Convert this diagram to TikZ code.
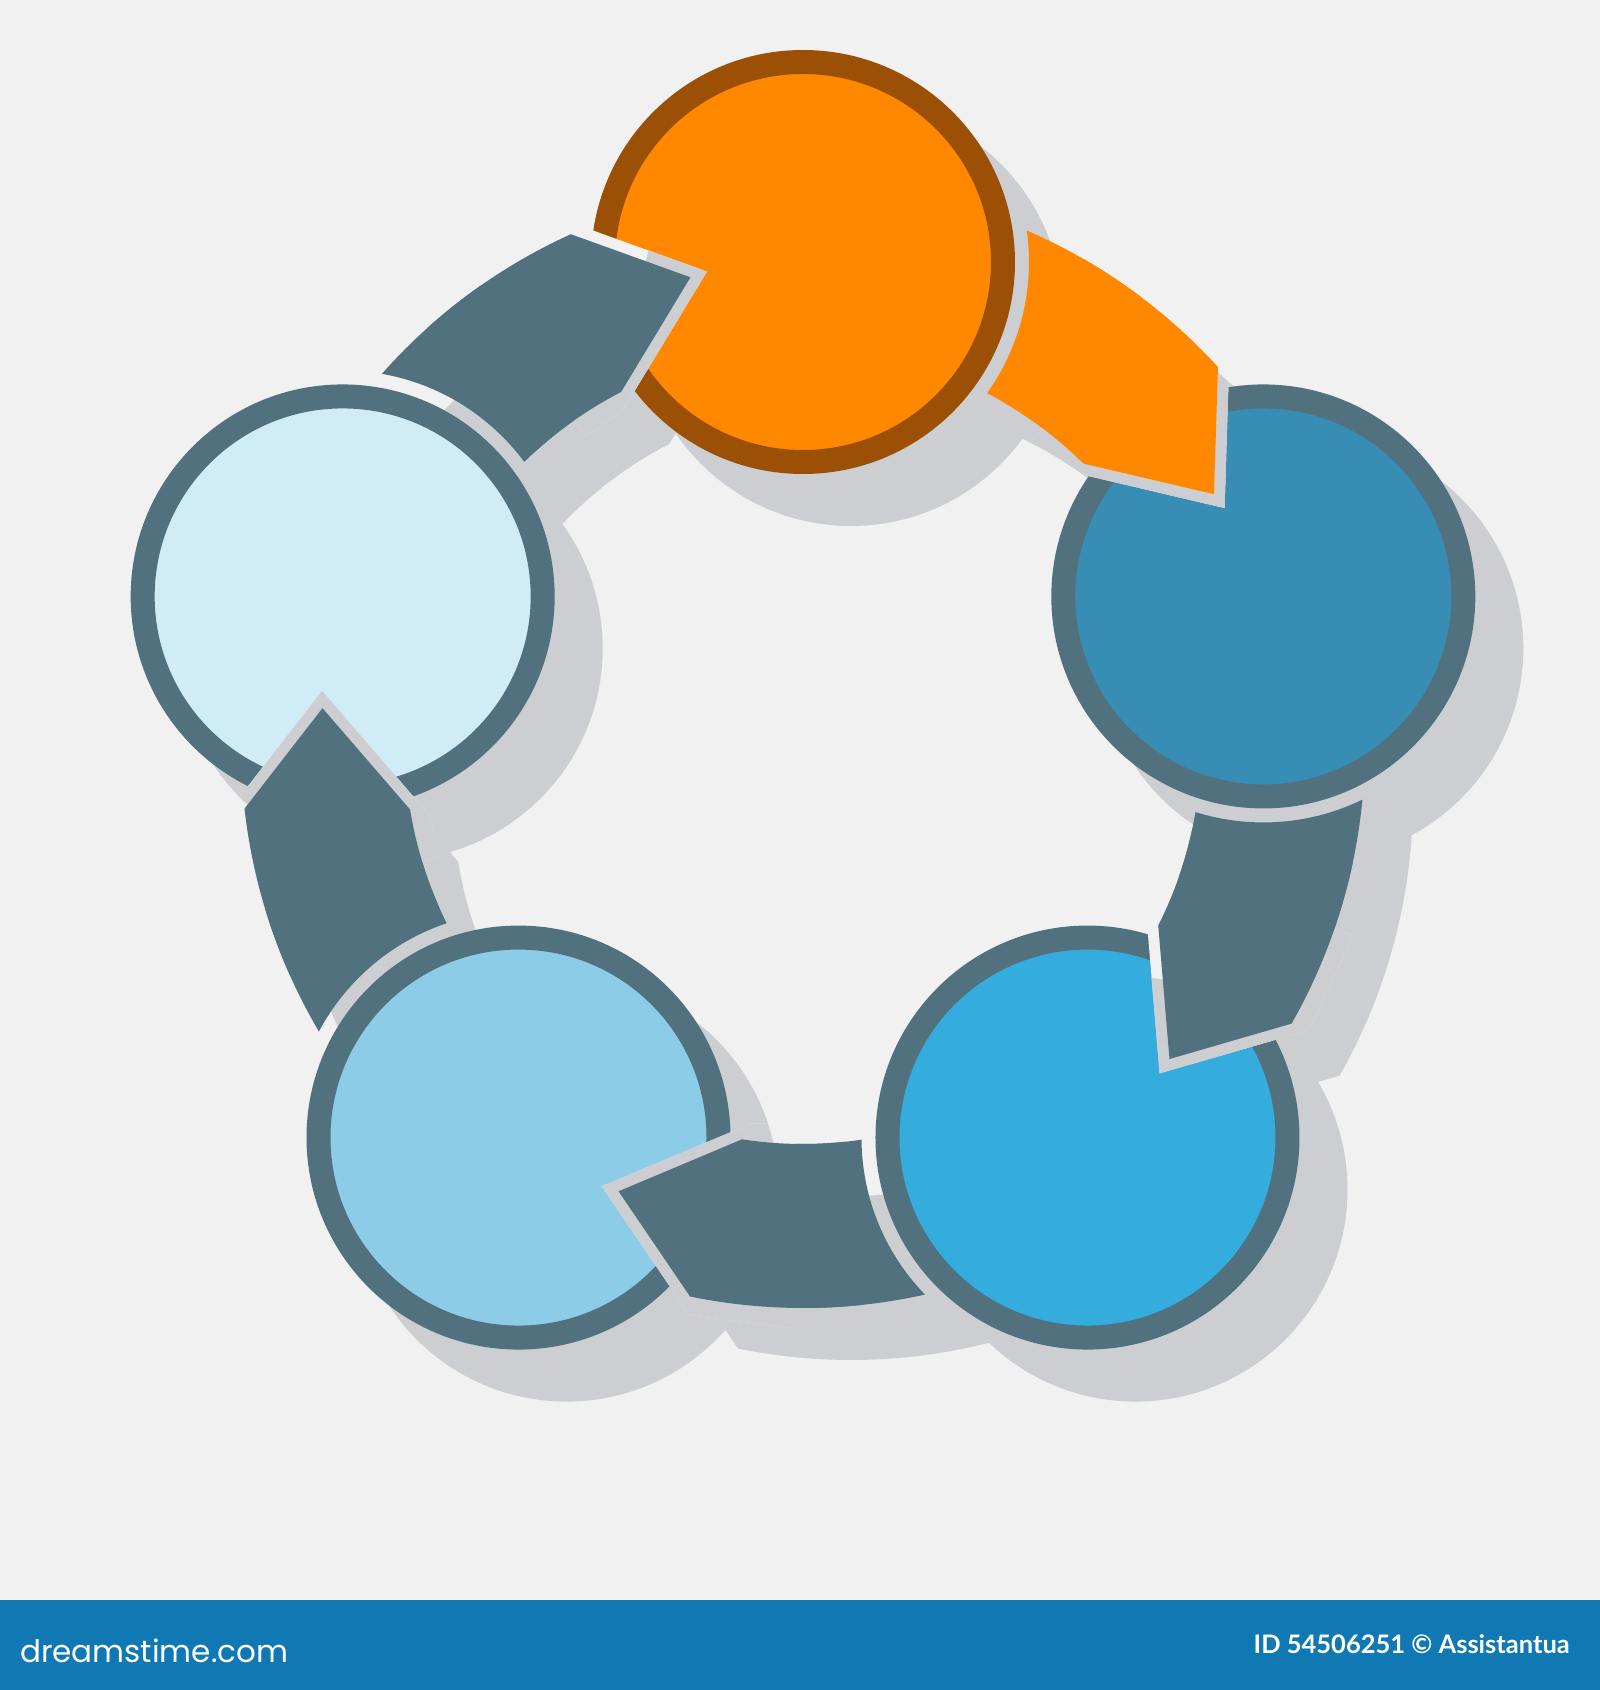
\documentclass[tikz,border=0pt]{standalone}
\usepackage{fontspec}
\newfontfamily\poppinsfont{Poppins}
\newfontfamily\latofont{Lato}
\usetikzlibrary{calc}
\definecolor{bgc}{HTML}{F1F1F1}
\definecolor{shc}{HTML}{CCCED1}
\definecolor{bandg}{HTML}{52717F}
\definecolor{orgF}{HTML}{FF8800}
\definecolor{orgB}{HTML}{9B5005}
\definecolor{blueA}{HTML}{388DB4}
\definecolor{blueB}{HTML}{34ACDD}
\definecolor{blueC}{HTML}{8DCCE6}
\definecolor{blueD}{HTML}{D0ECF7}
\definecolor{bannerc}{HTML}{1078B2}
\tikzset{
  bandp/.style={insert path={({#1+72}:562pt) arc[start angle=#1+72, end angle=#1+24.4, radius=562pt]
      -- ({#1+13.5}:482pt) -- ({#1+27.2}:398pt)
      arc[start angle=#1+27.2, end angle=#1+72, radius=398pt] -- cycle}},
  tipp/.style={insert path={({#1+42}:562pt) arc[start angle=#1+42, end angle=#1+24.4, radius=562pt]
      -- ({#1+13.5}:482pt) -- ({#1+27.2}:398pt)
      arc[start angle=#1+27.2, end angle=#1+42, radius=398pt] -- cycle}},
  tipclip/.style={insert path={({#1+35}:582pt) -- ({#1+24.7}:580.4pt) -- ({#1+23.63}:570pt)
      -- ({#1+11.45}:484.1pt) -- ({#1+26.35}:388.7pt) -- ({#1+28.25}:380.9pt)
      -- ({#1+35}:378pt) -- cycle}},
  disc/.style={circle, inner sep=0pt, minimum size=400pt, line width=24pt},
}
\newcommand\shadowlayer{%
  \fill[bgc] (-803,-944) rectangle (797,746);
  \begin{scope}[shift={(48,-52)}]
    \foreach \s in {90,18,-54,-126,-198}{%
      \fill[shc] ({\s}:484pt) circle[radius=212pt];
      \path[fill=shc, bandp=\s];
    }
  \end{scope}}
\begin{document}
\begin{tikzpicture}[x=1pt,y=1pt]
\useasboundingbox (-803,-944) rectangle (797,746);
\shadowlayer
% arrow bands, tail knocked out around the source circle
\foreach \ang/\ac in {90/bandg,18/orgF,-54/bandg,-126/bandg,-198/bandg}{
  \begin{scope}
    \clip (-1000,-1100) -- (1000,-1100) -- (1000,900) -- (-1000,900) -- cycle
      ($({\ang+72}:484pt)+(226pt,0pt)$) arc[start angle=0, end angle=-360, radius=226pt] -- cycle;
    \path[fill=\ac, bandp=\ang];
  \end{scope}
}
% circles
\foreach \ang/\fc/\bc/\n in {90/orgF/orgB/c1,18/blueA/bandg/c2,-54/blueB/bandg/c3,-126/blueC/bandg/c4,-198/blueD/bandg/c5}{
  \node[disc, fill=\fc, draw=\bc] (\n) at ({\ang}:484pt) {};
}
% arrow tips over the target circles, with a gap
\foreach \ang/\ac in {90/bandg,18/orgF,-54/bandg,-126/bandg,-198/bandg}{
  \begin{scope}
    \path[clip, tipclip=\ang];
    \shadowlayer
  \end{scope}
  \path[fill=\ac, tipp=\ang];
}
% banner
\fill[bannerc] (-803,-944) rectangle (797,-854);
\node[anchor=base west, text=white, font=\poppinsfont\fontsize{31}{36}\selectfont, inner sep=0pt] (brand) at (-783,-916) {dreamstime.com};
\node[anchor=base east, text=white, font=\latofont\bfseries\fontsize{25.5}{30}\selectfont, inner sep=0pt] (credit) at (767,-907) {ID 54506251 © Assistantua};
\end{tikzpicture}
\end{document}
